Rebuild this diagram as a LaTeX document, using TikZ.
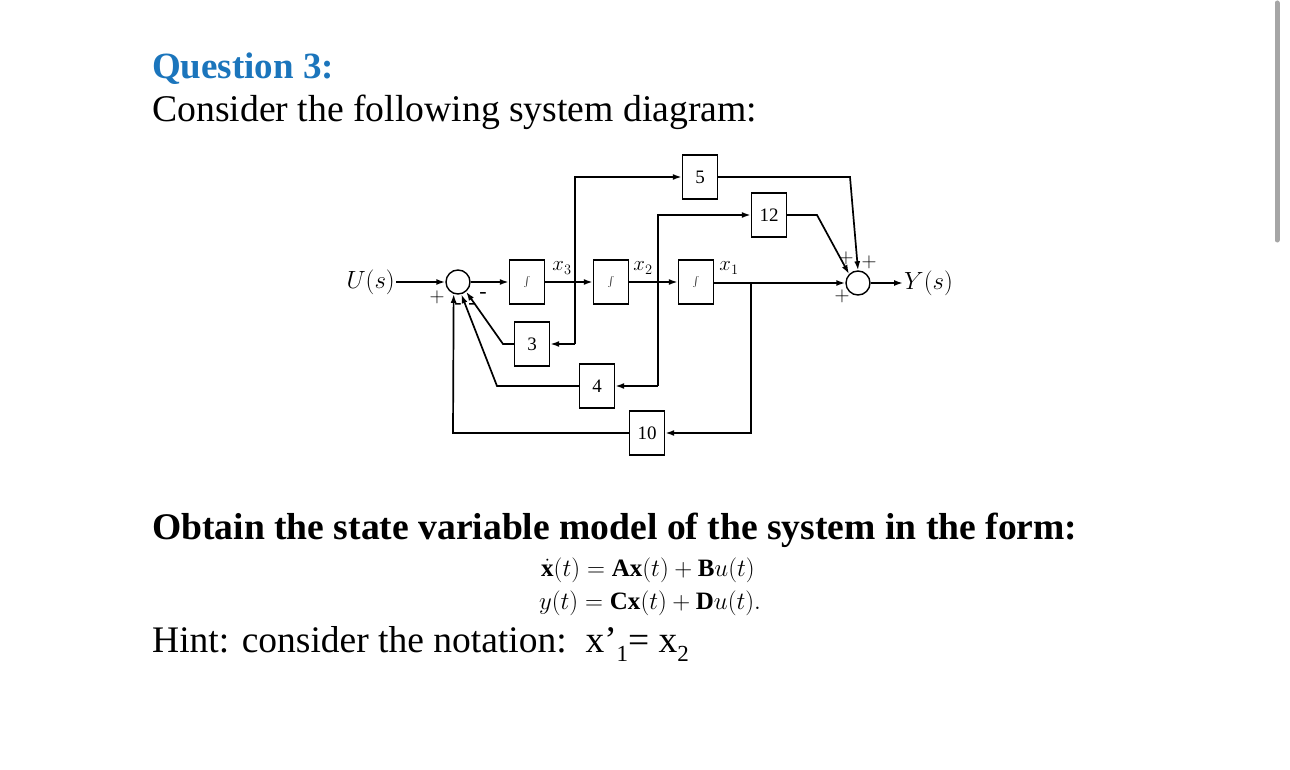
\documentclass[tikz,border=0pt]{standalone}
\usepackage{fontspec}
\setmainfont{Liberation Serif}
\usetikzlibrary{arrows.meta}
\definecolor{qblue}{HTML}{1B75BC}
\begin{document}
\begin{tikzpicture}[x=1pt,y=-1pt,
  blk/.style={draw,line width=1.4pt,minimum width=35pt,minimum height=44pt,inner sep=0pt,font=\fontsize{19}{19}\selectfont},
  intb/.style={blk,font=\fontsize{28}{28}\selectfont},
  sumc/.style={draw,line width=1.4pt,circle,minimum size=24pt,inner sep=0pt},
  arr/.style={line width=1.7pt,-{Latex[length=9pt,width=6pt]}},
  lbl/.style={font=\fontsize{24}{24}\selectfont,inner sep=1pt},
  xl/.style={font=\fontsize{21}{21}\selectfont,inner sep=1pt},
  sgn/.style={font=\fontsize{22}{22}\selectfont,inner sep=0pt}]
\useasboundingbox (0,0) rectangle (1290,770);
\fill[white] (0,0) rectangle (1290,770);
\draw[line width=5pt,gray!70,line cap=round] (1277,3) -- (1277,240);
% texts
\node[anchor=base west,inner sep=0pt,text=qblue,font=\fontsize{37}{37}\selectfont\bfseries] (q) at (152,79) {Question 3:};
\node[anchor=base west,inner sep=0pt,font=\fontsize{37.7}{37.7}\selectfont] (c) at (152,122) {Consider the following system diagram:};
\node[anchor=base west,inner sep=0pt,font=\fontsize{37.6}{37.6}\selectfont\bfseries] (o) at (152,539) {Obtain the state variable model of the system in the form:};
\node[inner sep=0pt,font=\fontsize{25}{25}\selectfont] (e1) at (648,570) {$\dot{\mathbf{x}}(t)=\mathbf{Ax}(t)+\mathbf{B}u(t)$};
\node[inner sep=0pt,font=\fontsize{25}{25}\selectfont] (e2) at (650,603) {$y(t)=\mathbf{Cx}(t)+\mathbf{D}u(t).$};
\node[anchor=base west,inner sep=0pt,font=\fontsize{37.5}{37.5}\selectfont] (h) at (152,652) {Hint: consider the notation:\ \ x’\raisebox{-9pt}{\fontsize{23}{23}\selectfont 1}= x\raisebox{-9pt}{\fontsize{23}{23}\selectfont 2}};
% diagram
\node[lbl,anchor=east] (u) at (396,282) {$U(s)$};
\node[sumc] (s1) at (458,282) {};
\node[intb] (i1) at (527,282) {$\int$};
\node[intb] (i2) at (611,282) {$\int$};
\node[intb] (i3) at (696,282) {$\int$};
\node[blk] (b5) at (700,177) {5};
\node[blk] (b12) at (769,215) {12};
\node[sumc] (s2) at (858,283) {};
\node[lbl,anchor=west] (y) at (903,283) {$Y(s)$};
\node[blk] (b3) at (532,344) {3};
\node[blk] (b4) at (597,386) {4};
\node[blk] (b10) at (647,433) {10};
\draw[arr] (u.east |- s1) -- (s1);
\draw[arr] (s1) -- (i1);
\draw[arr] (i1) -- (i2);
\draw[arr] (i2) -- (i3);
\draw[arr] (i3.east |- s2) -- (s2);
\draw[arr] (s2) -- (y);
\draw[arr] (575,344) -- (575,177) -- (b5);
\draw[arr] (575,344) -- (b3);
\draw[arr] (658,386) -- (658,215) -- (b12);
\draw[arr] (658,386) -- (b4);
\draw[arr] (751,283) -- (751,433) -- (b10);
\draw[arr] (b5) -- (850,177) -- (s2.north);
\draw[arr] (b12) -- (817,215) -- (s2.north west);
\draw[arr] (b3) -- (503,344) -- (s1.-50);
\draw[arr] (b4) -- (497,386) -- (s1.-75);
\draw[arr] (b10) -- (453,433) -- (s1.-110);
\node[xl] (lx3) at (562,268) {$x_3$};
\node[xl] (lx2) at (643,268) {$x_2$};
\node[xl] (lx1) at (729,268) {$x_1$};
\node[sgn] (p1) at (437,297) {$+$};
\node[sgn] (m1) at (483,295) {-};
\node[sgn] (m2) at (458,306) {-};
\node[sgn] (m3) at (472,306) {-};
\node[sgn] (p2) at (846,258) {$+$};
\node[sgn] (p3) at (869,262) {$+$};
\node[sgn] (p4) at (842,296) {$+$};
\end{tikzpicture}
\end{document}
